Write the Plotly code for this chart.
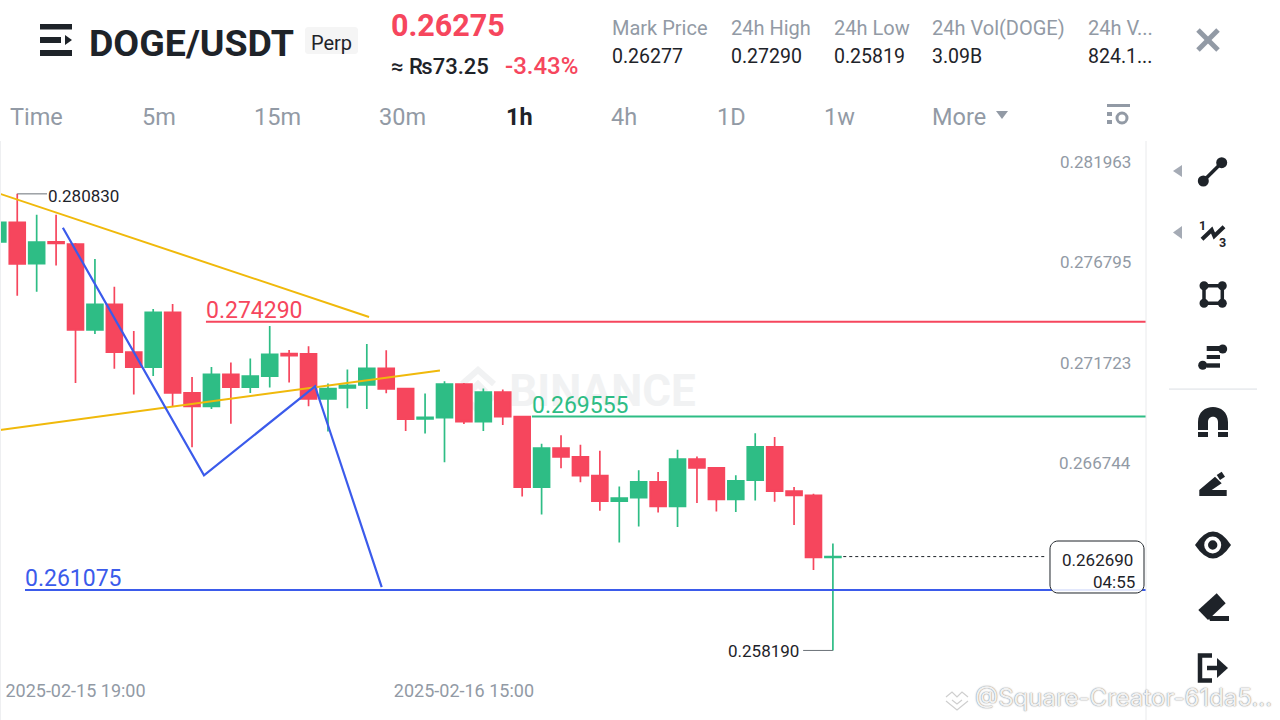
import math
import pandas as pd
import plotly.graph_objects as go

W, H = 1280, 720
FONT = "Roboto, 'Noto Sans', sans-serif"
INK = "#1E2329"
GREY = "#929AA5"
RED = "#F6465D"
GREEN = "#2EBD85"
BLUE = "#3B5BEB"
YELLOW = "#F0B90B"

# ---- candle data ----
times = pd.date_range("2025-02-15 15:00", periods=44, freq="h")
opens = [.278364,.279366,.277248,.278364,.278245,.273879,.275182,.272763,.272017,.274776,
         .270727,.270057,.271649,.271008,.271565,.272697,.272676,.270431,.270974,.271122,
         .271951,.270944,.269431,.269495,.271171,.269297,.270762,.269544,.266072,.267986,
         .267557,.266637,.265391,.265552,.266330,.265128,.267444,.267015,.265469,.266413,
         .268050,.265878,.265664,.262650]
highs = [.279495,.280830,.279752,.279752,.278297,.277489,.276075,.273828,.274944,.275197,
         .271516,.272017,.272240,.272443,.274081,.272879,.273067,.271191,.271901,.273169,
         .272864,.270959,.270698,.271304,.271220,.270944,.270895,.269555,.268198,.268627,
         .268149,.267853,.266102,.266901,.266818,.267902,.267572,.267049,.266656,.268726,
         .268543,.266072,.265746,.263328]
lows = [.278209,.275618,.275821,.277145,.271220,.273676,.271936,.270648,.271565,.270071,
        .268035,.269924,.269199,.270727,.270993,.271240,.270057,.268804,.269958,.269924,
        .270712,.268839,.268706,.267296,.269184,.268839,.269135,.265615,.264739,.267000,
        .266316,.264919,.263377,.264155,.264837,.264126,.265294,.264885,.264856,.265420,
        .265357,.264223,.262048,.258190]
closes = [.279366,.277232,.278348,.278276,.273879,.275182,.272763,.272017,.274776,.270727,
          .270057,.271649,.271008,.271565,.272661,.272595,.270431,.270944,.271107,.271951,
          .270924,.269416,.269514,.271171,.269297,.270762,.269544,.266072,.267986,.267557,
          .266637,.265391,.265537,.266330,.265128,.267444,.267015,.265469,.266379,.268050,
          .265878,.265664,.262647,.262690]

# ---- drawings ----
upper_t = ["2025-02-15 15:07", "2025-02-16 10:07"]
upper_p = [.280832, .274538]
lower_t = ["2025-02-15 15:07", "2025-02-16 13:46"]
lower_p = [.268888, .271850]
wave_t = ["2025-02-15 18:21", "2025-02-16 01:37", "2025-02-16 07:20", "2025-02-16 10:46"]
wave_p = [.279083, .266647, .271057, .261221]
x_end = "2025-02-18 02:07:19"
x_start = "2025-02-15 15:06:43"
level_red, level_green, level_blue = .274290, .269555, .261075
last_price, high_price, low_price = .262690, .280830, .258190

# ---- axis text ----
y_ticks = [.281963, .276795, .271723, .266744]
x_tickvals = ["2025-02-15 19:00", "2025-02-16 15:00"]
x_ticktext = ["2025-02-15 19:00", "2025-02-16 15:00"]
stat_names = ["Mark Price", "24h High", "24h Low", "24h Vol(DOGE)", "24h V..."]
stat_vals = ["0.26277", "0.27290", "0.25819", "3.09B", "824.1..."]
stat_x = [612, 731, 834, 932, 1088]
tabs = ["Time", "5m", "15m", "30m", "1h", "4h", "1D", "1w", "More"]
tab_x = [10, 142, 254, 379, 506, 611, 717, 824, 932]


def px(x):
    return x / W


def py(y):
    return 1 - y / H


def path(points, close=True):
    s = "M " + " L ".join(f"{px(x):.5f},{py(y):.5f}" for x, y in points)
    return s + (" Z" if close else "")


annotations = []
shapes = []


def text(x, y, s, size, color=INK, anchor="left", bold=False, **kw):
    annotations.append(dict(
        xref="paper", yref="paper", x=px(x), y=py(y), text=f"<b>{s}</b>" if bold else s,
        showarrow=False, xanchor=anchor, yanchor="middle", borderpad=0, borderwidth=0,
        font=dict(family=kw.pop("family", FONT), size=size, color=color, **kw)))


def poly(points, fill=INK, layer="above"):
    shapes.append(dict(type="path", xref="paper", yref="paper", path=path(points),
                       fillcolor=fill, line=dict(width=0), layer=layer))


def stroke(points, color=INK, width=3, layer="above", dash=None):
    shapes.append(dict(type="path", xref="paper", yref="paper", path=path(points, False),
                       line=dict(color=color, width=width, dash=dash), layer=layer))


def circle(cx, cy, r, fill=INK, line=None, lw=0):
    shapes.append(dict(type="circle", xref="paper", yref="paper", x0=px(cx - r), x1=px(cx + r),
                       y0=py(cy + r), y1=py(cy - r), fillcolor=fill,
                       line=dict(color=line or fill, width=lw)))


def box(x0, y0, x1, y1, fill=INK, layer="above"):
    shapes.append(dict(type="rect", xref="paper", yref="paper", x0=px(x0), x1=px(x1),
                       y0=py(y1), y1=py(y0), fillcolor=fill, line=dict(width=0), layer=layer))


def rounded(x0, y0, x1, y1, r, fill, line=None, lw=0):
    k = r * 0.45
    P = lambda x, y: f"{px(x):.5f},{py(y):.5f}"
    d = (f"M {P(x0 + r, y0)} L {P(x1 - r, y0)} C {P(x1 - k, y0)} {P(x1, y0 + k)} {P(x1, y0 + r)} "
         f"L {P(x1, y1 - r)} C {P(x1, y1 - k)} {P(x1 - k, y1)} {P(x1 - r, y1)} "
         f"L {P(x0 + r, y1)} C {P(x0 + k, y1)} {P(x0, y1 - k)} {P(x0, y1 - r)} "
         f"L {P(x0, y0 + r)} C {P(x0, y0 + k)} {P(x0 + k, y0)} {P(x0 + r, y0)} Z")
    shapes.append(dict(type="path", xref="paper", yref="paper", path=d, fillcolor=fill,
                       line=dict(color=line or fill, width=lw)))


# ---- header ----
box(40, 24, 72, 29.5)
box(40, 37, 61, 43)
poly([(65, 35), (72, 40), (65, 45)])
box(40, 50, 72, 56)
text(89, 43, "DOGE/USDT", 37.5, bold=True)
rounded(305, 27, 358, 54, 3, "#F5F5F5")
text(311, 43, "Perp", 20)
text(391, 26, "0.26275", 30.5, RED, bold=True)
text(391, 66, "≈ ₨73.25", 22, INK, weight=500)
text(505, 66, "-3.43%", 24, RED, weight=500)
for n, v, x in zip(stat_names, stat_vals, stat_x):
    text(x, 28, n, 20, GREY)
    text(x, 57, v, 19.5, INK)
stroke([(1198, 30), (1218, 50)], "#929AA5", 5)
stroke([(1218, 30), (1198, 50)], "#929AA5", 5)

# ---- tabs ----
for n, x in zip(tabs, tab_x):
    text(x, 117, n, 23.5, INK if n == "1h" else GREY, bold=n == "1h")
poly([(996, 111), (1008, 111), (1002, 119)], GREY)
box(1107, 104, 1130, 107, GREY)
box(1107, 112, 1112, 116, GREY)
box(1107, 120, 1112, 124, GREY)
circle(1122, 118, 5, "white", GREY, 3)

# ---- chart frame ----
shapes.append(dict(type="line", xref="paper", yref="paper", x0=px(1146), x1=px(1146), y0=py(720), y1=py(141),
                   line=dict(color="#E9EAEC", width=1)))
shapes.append(dict(type="line", xref="paper", yref="paper", x0=px(0.5), x1=px(0.5), y0=py(720), y1=py(141),
                   line=dict(color="#EEEFF1", width=1)))

# ---- BINANCE watermark (below candles) ----
WM = "#F1F2F3"
stroke([(462, 384), (478, 370), (494, 384)], WM, 6, "below")
stroke([(470, 392), (478, 384), (486, 392)], WM, 6, "below")
stroke([(462, 396), (478, 410), (494, 396)], WM, 6, "below")
shapes.append(dict(type="rect", xref="paper", yref="paper", x0=px(505), x1=px(700), y0=py(406), y1=py(370),
                   line=dict(width=0), layer="below",
                   label=dict(text="<b>BINANCE</b>", textposition="middle center",
                              font=dict(family="Roboto", size=44, color=WM))))

# ---- axis labels ----
for p in y_ticks:
    annotations.append(dict(xref="paper", yref="y", x=px(1133), y=math.log10(p), text=f"{p:.6f}",
                            yshift=10, showarrow=False, xanchor="right", yanchor="middle",
                            font=dict(family=FONT, size=17, color=GREY)))

# ---- level labels ----
text(206, 310, f"{level_red:.6f}", 23, RED)
text(532, 405, f"{level_green:.6f}", 23, GREEN)
text(25, 578, f"{level_blue:.6f}", 23, BLUE)
text(48, 196, f"{high_price:.6f}", 17, INK)
text(728, 651, f"{low_price:.6f}", 17, INK)

# ---- last price tag ----
rounded(1050, 541, 1144, 593, 8, "rgba(255,255,255,0.86)", INK, 1)
text(1133, 560, f"{last_price:.6f}", 17, INK, anchor="right")
text(1135, 582, "04:55", 17, INK, anchor="right")

# ---- side toolbar ----
poly([(1182, 165), (1182, 177), (1173, 171)], "#A5ABB5")
stroke([(1203.3, 181), (1221.7, 162.7)], INK, 3.5)
circle(1221.7, 162.7, 5.5)
circle(1203.3, 181, 5.5)
poly([(1182, 226), (1182, 239), (1173, 232.5)], "#A5ABB5")
stroke([(1202, 239.3), (1211.7, 230), (1214.3, 236), (1224, 226.7)], INK, 4)
text(1199, 225, "1", 12.5, INK, bold=True)
text(1219, 242, "3", 12.5, INK, bold=True)
stroke([(1204, 285.7), (1222.3, 285.7), (1222.3, 303.3), (1204, 303.3), (1204, 285.7)], INK, 3.5)
for cx, cy in [(1204, 285.7), (1222.3, 285.7), (1204, 303.3), (1222.3, 303.3)]:
    circle(cx, cy, 4.5)
box(1206.7, 346, 1220, 351)
box(1206.7, 355, 1220, 359)
box(1206.7, 363.3, 1220, 367.7)
circle(1222.7, 349, 4.5)
circle(1202.7, 365.3, 4.5)
box(1169, 388.3, 1257, 390, "#EAECEF")
# magnet
shapes.append(dict(type="path", xref="paper", yref="paper",
                   path=f"M {px(1198):.5f},{py(430):.5f} L {px(1198):.5f},{py(422):.5f} "
                        f"C {px(1198):.5f},{py(402):.5f} {px(1228):.5f},{py(402):.5f} {px(1228):.5f},{py(422):.5f} "
                        f"L {px(1228):.5f},{py(430):.5f} L {px(1218):.5f},{py(430):.5f} L {px(1218):.5f},{py(422):.5f} "
                        f"C {px(1218):.5f},{py(415):.5f} {px(1208):.5f},{py(415):.5f} {px(1208):.5f},{py(422):.5f} "
                        f"L {px(1208):.5f},{py(430):.5f} Z",
                   fillcolor=INK, line=dict(width=0)))
box(1198, 432, 1208, 437)
box(1218, 432, 1228, 437)
# pencil
poly([(1199.3, 490), (1215, 476.7), (1221.7, 483.3), (1211.7, 490), (1226.7, 490), (1226.7, 496), (1199.3, 496)])
poly([(1216.7, 475), (1221.7, 471.7), (1225, 476.7), (1220, 480)])
# eye
shapes.append(dict(type="path", xref="paper", yref="paper",
                   path=f"M {px(1195):.5f},{py(545):.5f} Q {px(1213):.5f},{py(518):.5f} {px(1231):.5f},{py(545):.5f} "
                        f"Q {px(1213):.5f},{py(572):.5f} {px(1195):.5f},{py(545):.5f} Z",
                   fillcolor=INK, line=dict(width=0)))
circle(1212.7, 545, 8.5, "white")
circle(1212.7, 545, 4.7)
# eraser
poly([(1198.3, 610), (1216.7, 593.3), (1225.7, 603.3), (1208, 620)])
poly([(1208, 616), (1229, 616), (1229, 621), (1210, 621)])
# exit
stroke([(1212, 655.5), (1200, 655.5), (1200, 680.5), (1212, 680.5)], INK, 4.5)
stroke([(1207, 668), (1220, 668)], INK, 4.5)
poly([(1217, 658), (1228, 668), (1217, 678)])

# ---- corner credit ----
LOGO = "#CFCFCF"
stroke([(946, 697), (952, 692), (957, 697), (962, 692), (968, 697)], LOGO, 1.2)
stroke([(946, 701), (957, 710), (968, 701)], LOGO, 1.2)
stroke([(952, 700), (957, 704), (962, 700)], LOGO, 1.2)
annotations.append(dict(xref="paper", yref="paper", x=px(973), y=py(697), text="@Square-Creator-61da5...",
                        showarrow=False, xanchor="left", yanchor="middle",
                        font=dict(family="Inter, Roboto", size=24, color="rgba(255,255,255,0.9)",
                                  shadow="0 0 1.2px #8a8a8a, 0 0 1.2px #8a8a8a")))

fig = go.Figure()
fig.add_trace(go.Candlestick(
    x=times, open=opens, high=highs, low=lows, close=closes,
    increasing=dict(line=dict(color=GREEN, width=1.7), fillcolor=GREEN),
    decreasing=dict(line=dict(color=RED, width=1.7), fillcolor=RED),
    whiskerwidth=0, hoverinfo="skip", showlegend=False))


def add_line(t, p, color, width=2, dash=None):
    fig.add_trace(go.Scatter(x=t, y=p, mode="lines", showlegend=False, hoverinfo="skip",
                             line=dict(color=color, width=width, dash=dash)))


add_line(upper_t, upper_p, YELLOW)
add_line(lower_t, lower_p, YELLOW)
add_line(wave_t, wave_p, BLUE, 2.2)
add_line(["2025-02-16 01:43", x_end], [level_red] * 2, RED)
add_line(["2025-02-16 18:30", x_end], [level_green] * 2, GREEN)
add_line(["2025-02-15 16:24", x_end], [level_blue] * 2, BLUE)
add_line(["2025-02-17 10:32", "2025-02-17 20:54"], [last_price] * 2, INK, 1, "3px,3px")
add_line(["2025-02-15 16:00", "2025-02-15 17:32"], [high_price] * 2, "#6B7178", 1)
add_line(["2025-02-17 08:28", "2025-02-17 10:00"], [low_price] * 2, "#6B7178", 1)

top_log = math.log10(y_ticks[0]) + 31 / 5432 / math.log(10)
bottom_log = math.log10(y_ticks[0]) - 506 / 5432 / math.log(10)

fig.update_layout(
    width=W, height=H, margin=dict(l=0, r=0, t=0, b=0),
    paper_bgcolor="white", plot_bgcolor="rgba(0,0,0,0)",
    boxgap=0.18, boxgroupgap=0, showlegend=False,
    font=dict(family=FONT),
    annotations=annotations, shapes=shapes,
    xaxis=dict(domain=[0, 1146 / W], range=[x_start, x_end], type="date", rangeslider=dict(visible=False),
               showgrid=False, zeroline=False, showline=False, ticks="",
               tickmode="array", tickvals=x_tickvals, ticktext=x_ticktext,
               tickfont=dict(family=FONT, size=18, color=GREY), anchor="y"),
    yaxis=dict(domain=[py(678), py(141)], type="log", range=[bottom_log, top_log],
               showgrid=False, zeroline=False, showline=False, ticks="", showticklabels=False,
               side="right", anchor="x"),
)

fig.write_html("out.html", config=dict(displayModeBar=False, staticPlot=True),
               post_script="document.body.style.margin='0';document.body.style.overflow='hidden';")
